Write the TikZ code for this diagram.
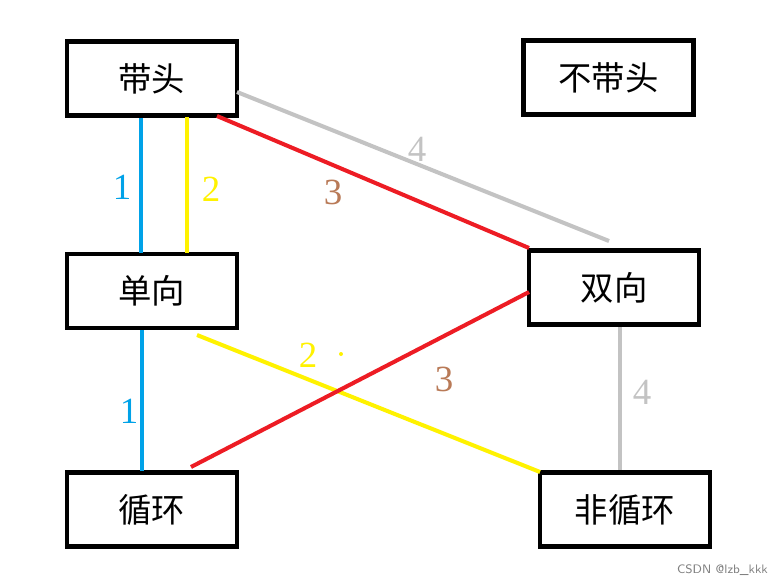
\documentclass[tikz,border=0pt]{standalone}
\usepackage{fontspec}
\setmainfont{Liberation Serif}
\newfontfamily\cjk{Noto Sans CJK SC}
\definecolor{cblue}{RGB}{0,162,232}
\definecolor{cyel}{RGB}{255,242,0}
\definecolor{cred}{RGB}{237,28,36}
\definecolor{cgray}{RGB}{195,195,195}
\definecolor{cbrown}{RGB}{185,122,87}
\tikzset{
  box/.style={draw=black,line width=2.4pt,minimum width=3.4cm,minimum height=1.48cm,inner sep=0pt,font=\cjk\fontsize{19}{19}\selectfont},
  conn/.style={line width=2.3pt},
  num/.style={font=\fontsize{21}{21}\selectfont}
}
\begin{document}
\begin{tikzpicture}[x=0.02cm,y=-0.02cm]
\useasboundingbox[fill=white] (0,0) rectangle (779,586);
\node[box] (dt) at (152,78.5) {带头};
\node[box] (bdt) at (608.5,77.5) {不带头};
\node[box] (dx) at (152,291) {单向};
\node[box] (sx) at (614,287.5) {双向};
\node[box] (xh) at (152,509.5) {循环};
\node[box] (fxh) at (625,509.5) {非循环};
\coordinate (a1) at (141,118); \coordinate (a2) at (141,253);
\coordinate (b1) at (187,117); \coordinate (b2) at (187,253);
\coordinate (c1) at (217,116); \coordinate (c2) at (529,248);
\coordinate (d1) at (237,92);  \coordinate (d2) at (609,241);
\coordinate (e1) at (142,330); \coordinate (e2) at (142,471);
\coordinate (f1) at (197,335); \coordinate (f2) at (540,472);
\coordinate (g1) at (191,467); \coordinate (g2) at (529,292);
\coordinate (h1) at (620,327); \coordinate (h2) at (620,470);
\draw[conn,cblue] (a1) -- (a2);
\draw[conn,cyel] (b1) -- (b2);
\draw[conn,cgray] (d1) -- (d2);
\draw[conn,cred] (c1) -- (c2);
\draw[conn,cblue] (e1) -- (e2);
\draw[conn,cyel] (f1) -- (f2);
\draw[conn,cred] (g1) -- (g2);
\draw[conn,cgray] (h1) -- (h2);
\node[num,cblue] (l1) at (122,187) {1};
\node[num,cyel] (l2) at (211,189) {2};
\node[num,cbrown] (l3) at (333,192) {3};
\node[num,cgray] (l4) at (417,149) {4};
\node[num,cblue] (l5) at (129,411) {1};
\node[num,cyel] (l6) at (308,355) {2};
\fill[cyel] (341,354) circle (2);
\node[num,cbrown] (l7) at (444,379) {3};
\node[num,cgray] (l8) at (642,392) {4};
\node[font=\fontsize{7}{7}\selectfont\sffamily,text=gray,anchor=east] (wm) at (774,570) {CSDN @lzb\_kkk};
\end{tikzpicture}
\end{document}
